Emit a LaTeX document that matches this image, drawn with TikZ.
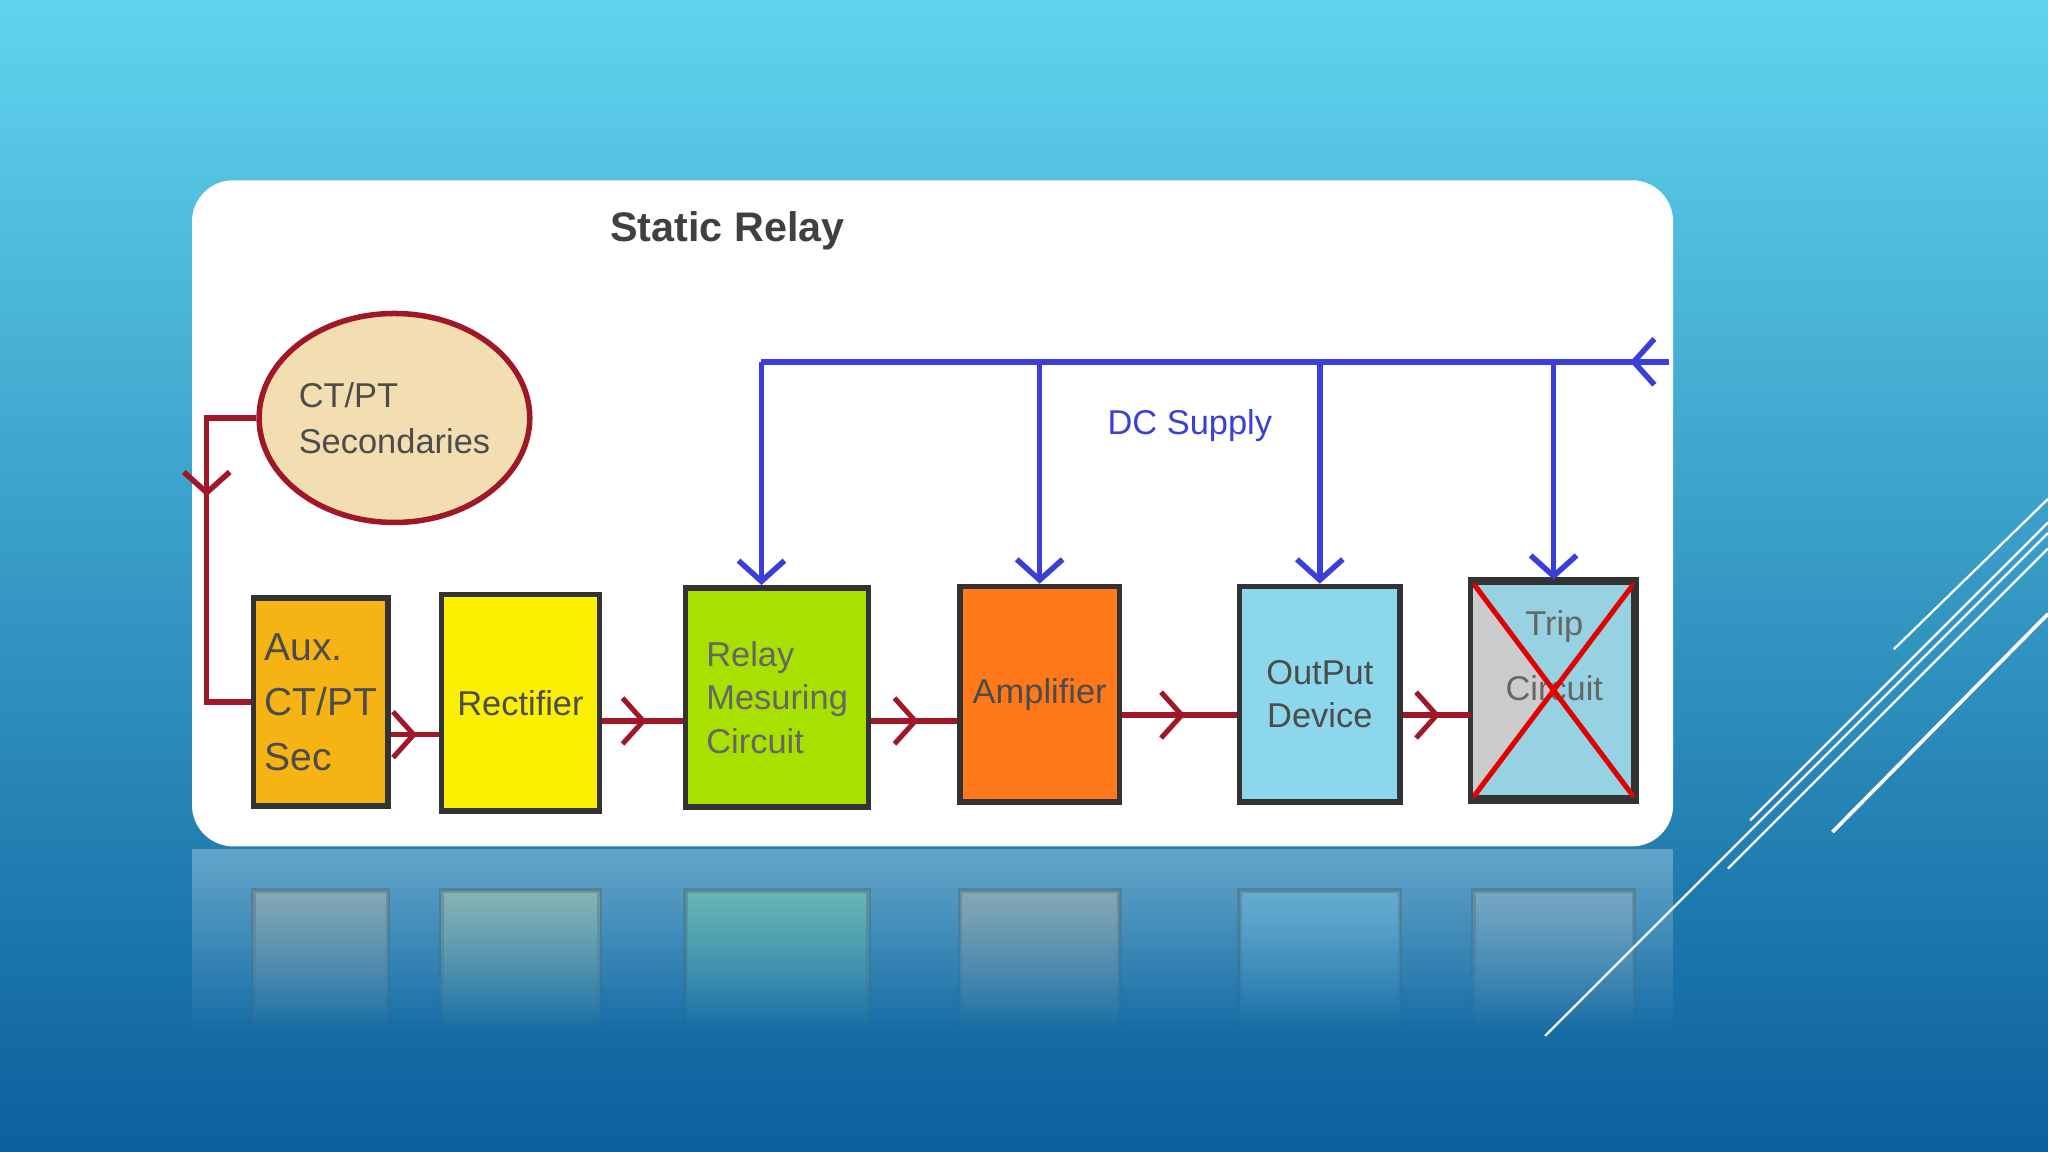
\documentclass[tikz,border=0pt]{standalone}
\usepackage{fontspec}
\setmainfont{Liberation Sans}
\usetikzlibrary{arrows.meta,decorations.markings,fadings,shapes.geometric}
\definecolor{rl}{HTML}{A01828}
\definecolor{bl}{HTML}{3A3FD8}
\tikzset{
 box/.style={draw=black!80,line width=1.2pt,inner sep=0pt,font=\fontsize{7.5}{9.5}\selectfont,text=black!70,align=left},
 rline/.style={draw=rl,line width=1.2pt},
 mid/.style={postaction={decorate},decoration={markings,mark=at position 0.55 with {\arrow[line width=1.1pt]{Straight Barb[length=4.5pt,width=10pt]}}}},
 tip/.style={-{Straight Barb[length=4.5pt,width=10pt]}},
 bline/.style={draw=bl,line width=1.2pt},
 deco/.style={draw=white,line width=0.5pt}
}
\begin{document}
\begin{tikzpicture}[x=0.1mm,y=-0.1mm]
\useasboundingbox (0,0) rectangle (1568,882);
\shade[top color={rgb,255:red,96;green,212;blue,238},bottom color={rgb,255:red,12;green,96;blue,156}] (0,0) rectangle (1568,882);
% reflection
\begin{scope}[opacity=0.3]
\fill[white,path fading=south] (147,650) rectangle (1281,790);
\foreach \a/\b/\c in {194/297/orange,338/459/yellow,525/665/green,735/857/orange,949/1072/cyan,1128/1251/gray}
  \draw[black!70,line width=1pt,fill=\c!40!white,path fading=south] (\a,790) -- (\a,682) -- (\b,682) -- (\b,790);
\end{scope}
% panel
\fill[white,rounded corners=9pt] (147,138) rectangle (1281,648);
\node[font=\fontsize{9}{11}\selectfont\bfseries,text=black!75] (title) at (557,177) {Static Relay};
\node[ellipse,draw=rl,line width=1.2pt,fill={rgb,255:red,243;green,222;blue,178},minimum width=20.4mm,minimum height=16mm,inner sep=0pt,font=\fontsize{7.5}{10}\selectfont,text=black!70,align=left] (ctpt) at (302,320) {CT/PT\\Secondaries};
% boxes
\node[box,fill={rgb,255:red,245;green,180;blue,20},minimum width=10.3mm,minimum height=15.9mm,font=\fontsize{8.5}{12}\selectfont] (aux) at (245.5,537.5) {Aux.\\CT/PT\\Sec};
\node[box,fill={rgb,255:red,250;green,240;blue,0},minimum width=12.1mm,minimum height=16.6mm] (rect) at (398.5,538) {Rectifier};
\node[box,fill={rgb,255:red,168;green,224;blue,0},minimum width=14mm,minimum height=16.8mm,text=black!60] (relay) at (595,534) {Relay\\Mesuring\\Circuit};
\node[box,fill={rgb,255:red,255;green,120;blue,25},minimum width=12.2mm,minimum height=16.5mm] (amp) at (796,531.5) {Amplifier};
\node[box,fill={rgb,255:red,140;green,215;blue,235},minimum width=12.3mm,minimum height=16.5mm,align=center] (out) at (1010.5,531.5) {OutPut\\Device};
\node[box,fill={rgb,255:red,150;green,210;blue,225},minimum width=12.3mm,minimum height=16.5mm] (trip) at (1189.5,528.5) {};
\fill[black!20] (trip.north west) -- (trip.center) -- (trip.south west) -- cycle;
\node[font=\fontsize{7.5}{14}\selectfont,text=black!60,align=center] (triptext) at (1190,502) {Trip\\Circuit};
\draw[red!90!black,line width=1.1pt] (trip.north west) -- (trip.south east) (trip.north east) -- (trip.south west);
\draw[black!80,line width=1.2pt] (trip.north west) rectangle (trip.south east);
% red connectors
\draw[rline] (ctpt.west) -- ++(-38,0) coordinate (c1) -- (c1 |- aux.west) -- (aux.west);
\draw[rl,line width=1.2pt,tip] (c1) ++(0,10) -- ++(0,50);
\draw[rline,mid] ([yshift=-2.5mm]aux.east) -- ([yshift=-2.5mm]aux.east -| rect.west);
\draw[rline,mid] ([yshift=-1.4mm]rect.east) -- ([yshift=-1.4mm]rect.east -| relay.west);
\draw[rline,mid] ([yshift=-1.8mm]relay.east) -- ([yshift=-1.8mm]relay.east -| amp.west);
\draw[rline,mid] ([yshift=-1.6mm]amp.east) -- ([yshift=-1.6mm]amp.east -| out.west);
\draw[rline,mid] ([yshift=-1.6mm]out.east) -- ([yshift=-1.6mm]out.east -| trip.west);
% blue supply
\coordinate (s0) at (583,277);
\coordinate (s1) at (1278,277);
\draw[bline] (s0) -- (s1);
\draw[bl,line width=1.2pt,tip] (s1) -- ++(-30,0);
\draw[bl,line width=1.2pt,tip] (s0) -- (s0 |- relay.north);
\foreach \n in {amp,out,trip}
  \draw[bl,line width=1.2pt,tip] (\n.north |- s0) -- (\n.north);
\node[font=\fontsize{7.5}{9}\selectfont,text=bl] (dc) at (911,326) {DC Supply};
% decorative lines
\draw[deco] (1450,497) -- (1568,382);
\draw[deco] (1340,628) -- (1568,400);
\draw[deco] (1323,665) -- (1568,420);
\draw[deco,line width=0.8pt] (1403,637) -- (1568,470);
\draw[deco] (1183,793) -- (1568,408);
\end{tikzpicture}
\end{document}
